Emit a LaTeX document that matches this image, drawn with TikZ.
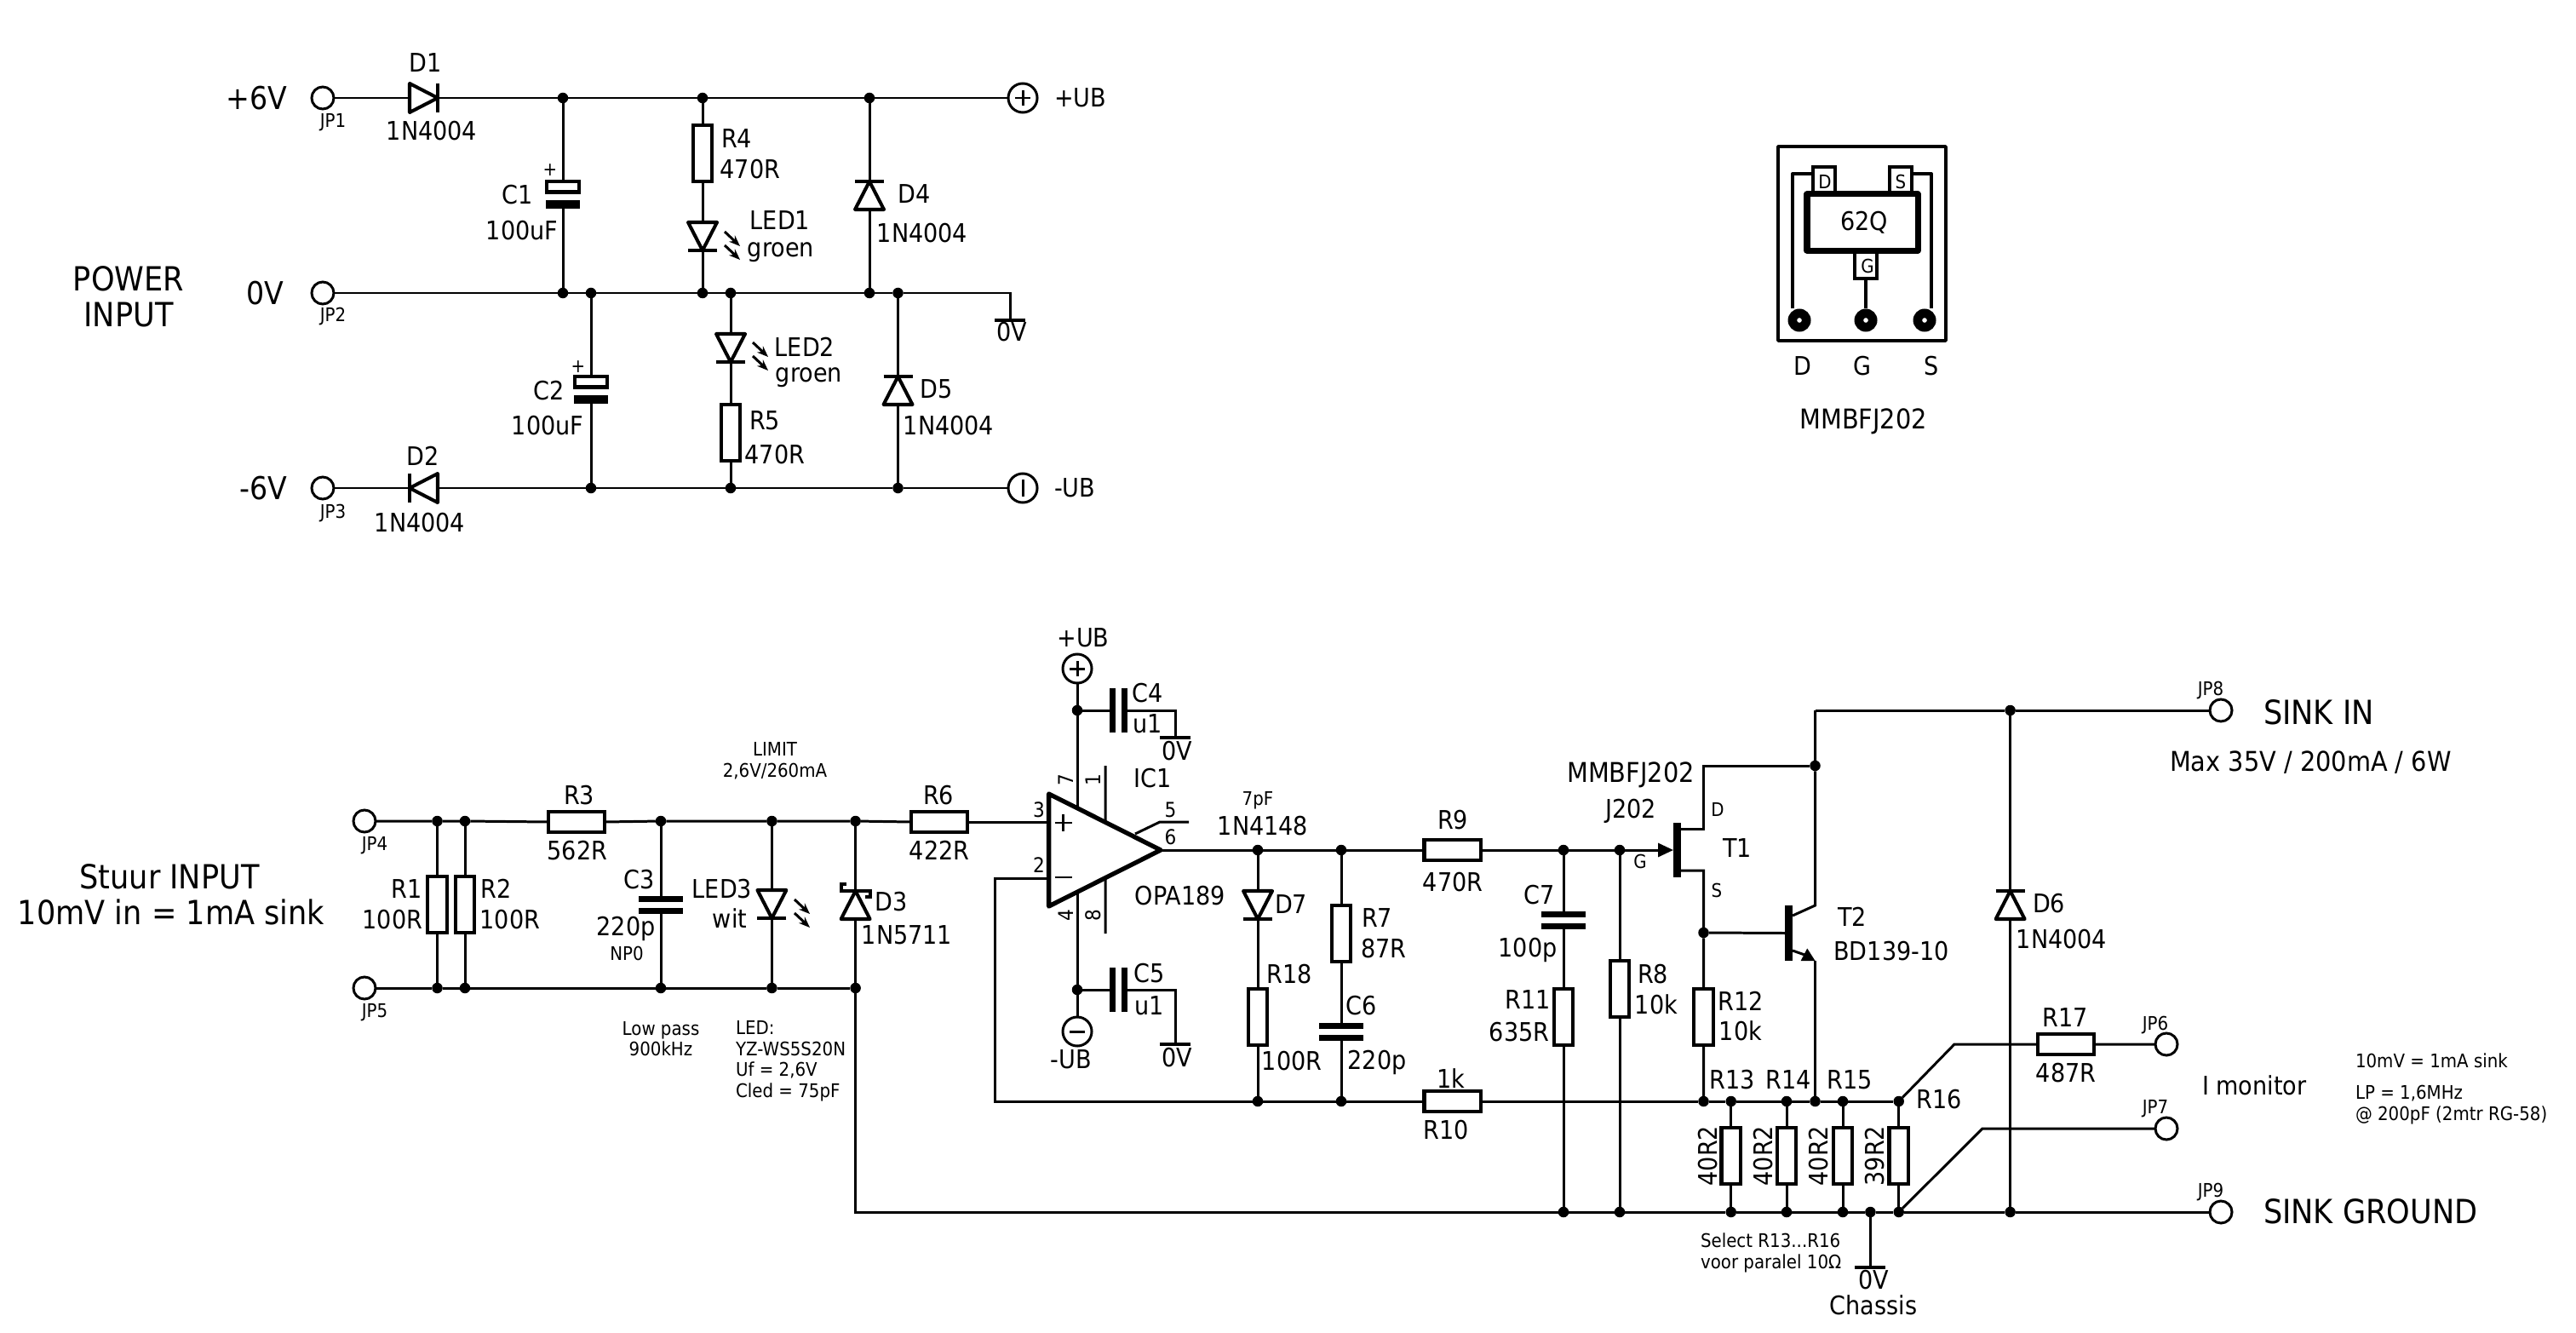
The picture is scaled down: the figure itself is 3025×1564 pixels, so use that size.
\documentclass[tikz,border=0pt]{standalone}
\usepackage{fontspec}
\setmainfont{DejaVu Sans}[FakeStretch=0.9]
\usetikzlibrary{arrows.meta}
\newcounter{tc}
\newcommand\T[3][]{\stepcounter{tc}\node[lab,#1] (t\arabic{tc}) at (#2) {#3};}
\newcommand\J[2]{\node[dot] (#1) at (#2) {};}
\newcommand\Diode[4]{\begin{scope}[shift={(#2)},rotate=#3]
 \coordinate (#1-a) at (0,0);\coordinate (#1-k) at (33,0);
 \draw[part,line join=round,fill=white] (0,-17)--(0,17)--(33,0)--cycle;
 \ifx#4s\else\draw[part] (33,-17)--(33,17);\fi
\end{scope}}
\newcommand\CapN[3]{\begin{scope}[shift={(#2)},rotate=#3]
 \coordinate (#1-1) at (0,-10.5);\coordinate (#1-2) at (0,10.5);
 \fill (-26,-10.5) rectangle (26,-3.5);\fill (-26,3.5) rectangle (26,10.5);
\end{scope}}
\newcommand\CapP[2]{\begin{scope}[shift={(#2)}]
 \coordinate (#1-t) at (0,0);\coordinate (#1-b) at (0,32);
 \draw[part] (-19,0) rectangle (19,12.5);\fill (-20,22) rectangle (20,32);
\end{scope}}
\newcommand\Leds[2]{\begin{scope}[shift={(#1)},rotate=#2]
 \draw[wire,-{Stealth[length=.13cm,width=.1cm]}] (0,0)--(18,17);
 \draw[wire,-{Stealth[length=.13cm,width=.1cm]}] (0,16)--(18,33);
\end{scope}}
\newcommand\Pwr[3]{\node[pterm] (#1) at (#2) {};
 \begin{scope}[shift={(#2)}]
 \ifx#3p\draw[wire] (-9,0)--(9,0) (0,-9)--(0,9);\fi
 \ifx#3m\draw[wire] (-9,0)--(9,0);\fi
 \ifx#3v\draw[wire] (0,-10)--(0,10);\fi
 \end{scope}}
\tikzset{
 wire/.style={line width=0.85pt},
 part/.style={line width=1.15pt},
 dot/.style={circle,fill=black,inner sep=0pt,minimum size=.125cm,outer sep=0pt},
 jpt/.style={circle,draw,wire,fill=white,inner sep=0pt,minimum size=.26cm,outer sep=0pt},
 pterm/.style={circle,draw,wire,fill=white,inner sep=0pt,minimum size=.34cm,outer sep=0pt},
 resH/.style={rectangle,draw,part,fill=white,inner sep=0pt,outer sep=0pt,minimum width=.66cm,minimum height=.235cm},
 resV/.style={rectangle,draw,part,fill=white,inner sep=0pt,outer sep=0pt,minimum width=.225cm,minimum height=.66cm},
 gndbar/.style={rectangle,fill=black,inner sep=0pt,outer sep=0pt,minimum width=.36cm,minimum height=.045cm},
 lab/.style={inner sep=0pt,outer sep=0pt,text height=6.2pt,text depth=0pt,font=\fontsize{8.55pt}{10pt}\selectfont},
 small/.style={text height=4.55pt,font=\fontsize{6.26pt}{7.5pt}\selectfont},
 pin/.style={text height=4.97pt,font=\fontsize{6.83pt}{8pt}\selectfont},
 mid/.style={text height=6.6pt,font=\fontsize{9.1pt}{11pt}\selectfont},
 big/.style={text height=7.65pt,font=\fontsize{10.5pt}{12pt}\selectfont},
 huge/.style={text height=8.1pt,font=\fontsize{11.1pt}{13pt}\selectfont},
 L/.style={anchor=west},
 R/.style={anchor=east}
}
\begin{document}
\begin{tikzpicture}[x=.01cm,y=-.01cm,wire]
\useasboundingbox (0,0) rectangle (3025,1564);
\fill[white] (0,0) rectangle (3025,1564);
% ---------- power input ----------
\node[jpt] (jp1) at (379,115) {};
\node[jpt] (jp2) at (379,344) {};
\node[jpt] (jp3) at (379,573) {};
\Pwr{ubp}{1201,115}{p}
\Pwr{ubm}{1201,573}{v}
\J{jc1t}{661,115}\J{jr4t}{825,115}\J{jd4t}{1021,115}
\J{jc1m}{661,344}\J{jc2m}{694,344}\J{jr4m}{825,344}\J{jr5m}{858,344}\J{jd4m}{1021,344}\J{jd5m}{1054.5,344}
\J{jc2b}{694,573}\J{jr5b}{858,573}\J{jd5b}{1054.5,573}
\Diode{d1}{481,115}{0}{n}
\Diode{d2}{514,573}{180}{n}
\Diode{d4}{1021,246}{90}{n}
\Diode{d5}{1054.5,475}{90}{n}
\Diode{l1}{825,261}{-90}{n}
\Diode{l2}{858,392}{-90}{n}
\Leds{851,272}{0}
\Leds{884,402}{0}
\CapP{c1}{661,213}
\CapP{c2}{694,442}
\node[resV] (r4) at (825,180) {};
\node[resV] (r5) at (858,508) {};
\node[gndbar] (g0) at (1186,376) {};
\draw (jp1)--(d1-a) (d1-k)--(jc1t)--(jr4t)--(jd4t)--(ubp);
\draw (jp2)--(jc1m)--(jc2m)--(jr4m)--(jr5m)--(jd4m)--(jd5m) -| (g0.north);
\draw (jp3)--(d2-k) (d2-a)--(jc2b)--(jr5b)--(jd5b)--(ubm);
\draw (jc1t)--(c1-t) (c1-b)--(jc1m);
\draw (jr4t)--(r4.north) (r4.south)--(l1-a) (l1-k)--(jr4m);
\draw (jd4t)--(d4-k) (d4-a)--(jd4m);
\draw (jc2m)--(c2-t) (c2-b)--(jc2b);
\draw (jr5m)--(l2-a) (l2-k)--(r5.north) (r5.south)--(jr5b);
\draw (jd5m)--(d5-k) (d5-a)--(jd5b);
\T[big,R]{337,115}{+6V}
\T[big,R]{333,344}{0V}
\T[big,R]{337,573}{-6V}
\T[huge]{151,327}{POWER}
\T[huge]{151,369}{INPUT}
\T[small]{391,142}{JP1}\T[small]{391,370}{JP2}\T[small]{391,600}{JP3}
\T{500,74}{D1}\T{507,154}{1N4004}
\T{497,536}{D2}\T{493,614}{1N4004}
\T[small]{646,199}{+}\T{608,229}{C1}\T{613,271}{100uF}
\T[small]{679,429}{+}\T{645,459}{C2}\T{643,500}{100uF}
\T{865,163}{R4}\T{881,199}{470R}
\T{916,259}{LED1}\T{917,291}{groen}
\T{945,408}{LED2}\T{950,438}{groen}
\T{898,494}{R5}\T{910,534}{470R}
\T{1074,228}{D4}\T{1083,274}{1N4004}
\T{1100,457}{D5}\T{1114,500}{1N4004}
\T{1188,390}{0V}
\T[L]{1238,115}{+UB}\T[L]{1238,573}{-UB}
% ---------- package ----------
\draw[line width=1pt,line join=round] (2088,172) rectangle (2285,400);
\node[rectangle,draw,line width=2pt,inner sep=0pt,outer sep=0pt,minimum width=1.3cm,minimum height=.66cm,line join=round,fill=white] (body) at (2187,261) {};
\node[rectangle,draw,line width=.95pt,inner sep=0pt,outer sep=0pt,minimum width=.26cm,minimum height=.32cm] (pd) at (2142,212) {};
\node[rectangle,draw,line width=.95pt,inner sep=0pt,outer sep=0pt,minimum width=.26cm,minimum height=.32cm] (ps) at (2232,212) {};
\node[rectangle,draw,line width=.95pt,inner sep=0pt,outer sep=0pt,minimum width=.26cm,minimum height=.32cm] (pg) at (2191,311) {};
\node[circle,fill=black,inner sep=0pt,outer sep=0pt,minimum size=.27cm] (hd) at (2113,376) {};
\node[circle,fill=black,inner sep=0pt,outer sep=0pt,minimum size=.27cm] (hg) at (2191,376) {};
\node[circle,fill=black,inner sep=0pt,outer sep=0pt,minimum size=.27cm] (hs) at (2260,376) {};
\coordinate (wd) at (2105,204);\coordinate (ws) at (2268,204);
\draw[line width=1.15pt,line join=round] (pd.west |- wd)--(wd)--(wd |- hd.north);
\draw[line width=1.15pt,line join=round] (ps.east |- ws)--(ws)--(ws |- hs.north);
\draw[line width=1.15pt] (pg.south)--(hg);
\fill[white] (hd) circle (2.8) (hg) circle (2.8) (hs) circle (2.8);
\T{2189,260}{62Q}
\T[small]{2143,214}{D}\T[small]{2232,214}{S}\T[small]{2193,313}{G}
\T{2117,430}{D}\T{2187,430}{G}\T{2268,430}{S}
\T[mid]{2188,492}{MMBFJ202}
% ---------- sink ----------
\node[jpt] (jp4) at (428,964) {};
\node[jpt] (jp5) at (428,1160) {};
\node[jpt] (jp6) at (2544,1226) {};
\node[jpt] (jp7) at (2544,1325) {};
\node[jpt] (jp8) at (2608,834) {};
\node[jpt] (jp9) at (2608,1423) {};
\J{j1t}{513.5,964}\J{j2t}{546,964}\J{jc3t}{776,964}\J{jl3t}{906.4,964}\J{jd3t}{1004.6,964}
\J{j1b}{513.5,1160}\J{j2b}{546,1160}\J{jc3b}{776,1160}\J{jl3b}{906.4,1160}\J{jd3b}{1004.6,1160}
\node[resV] (r1) at (513.5,1062) {};
\node[resV] (r2) at (546,1062) {};
\node[resH] (r3) at (677,965) {};
\node[resH] (r6) at (1103,965) {};
\CapN{c3}{776,1062}{0}
\Diode{l3}{906.4,1045}{-90}{n}
\Leds{933,1056}{0}
\Diode{d3}{1004.6,1079}{90}{s}
\draw[part] (994,1038)--(988,1038)--(988,1046)--(1022,1046)--(1022,1053)--(1016,1053);
\draw (jp4)--(j1t)--(j2t)--(r3.west) (r3.east)--(jc3t)--(jl3t)--(jd3t)--(r6.west);
\draw (jp5)--(j1b)--(j2b)--(jc3b)--(jl3b)--(jd3b);
\draw (j1t)--(r1.north) (r1.south)--(j1b);
\draw (j2t)--(r2.north) (r2.south)--(j2b);
\draw (jc3t)--(c3-1) (c3-2)--(jc3b);
\draw (jl3t)--(l3-a) (l3-k)--(jl3b);
\draw (jd3t)--(d3-k) (d3-a)--(jd3b);
\T[small]{440,990}{JP4}\T[small]{440,1186}{JP5}
\T{478,1044}{R1}\T{461,1080}{100R}\T{583,1044}{R2}\T{599,1080}{100R}
\T{680,934}{R3}\T{678,999}{562R}
\T{751,1033}{C3}\T{735,1088}{220p}\T[small]{736,1119}{NP0}
\T{848,1044}{LED3}\T{857,1079}{wit}
\T{1047,1059}{D3}\T{1065,1098}{1N5711}
\T{1102,934}{R6}\T{1103,999}{422R}
\T[small]{910,879}{LIMIT}\T[small]{910,904}{2,6V/260mA}
\T[small]{776,1207}{Low pass}\T[small]{776,1231}{900kHz}
\T[small,L]{864,1206}{LED:}\T[small,L]{864,1231}{YZ-WS5S20N}\T[small,L]{864,1255}{Uf = 2,6V}\T[small,L]{864,1280}{Cled = 75pF}
\T[huge]{199,1029}{Stuur INPUT}
\T[huge]{201,1071}{10mV in = 1mA sink}
% op amp
\coordinate (oa) at (1231.6,932);\coordinate (ob) at (1231.6,1064);\coordinate (oc) at (1363,998);
\coordinate (pin3) at (1231.6,965);\coordinate (pin2) at (1231.6,1031);
\coordinate (pin7) at (1265,949);\coordinate (pin4) at (1265,1047);
\coordinate (pin1a) at (1298,899);\coordinate (pin1b) at (1298,965);
\coordinate (pin8a) at (1298,1031);\coordinate (pin8b) at (1298,1096);
\coordinate (pin5a) at (1333,979);\coordinate (pin5b) at (1362,965);\coordinate (pin5c) at (1396,965);
\Pwr{opp}{1265,785}{p}
\Pwr{opm}{1265,1211}{m}
\J{jc4}{1265,834}\J{jc5}{1265,1162}
\CapN{c4}{1313,834}{90}
\CapN{c5}{1313,1162}{90}
\node[gndbar] (g4) at (1380,866) {};
\node[gndbar] (g5) at (1380,1226) {};
\J{jd7}{1477,998}\J{jr7}{1575,998}\J{jc7}{1836,998}\J{jr8}{1902,998}
\J{jd7b}{1477,1293}\J{jc6b}{1575,1293}
\J{jb}{2000.5,1095}\J{jq}{2131.5,899}
\J{j12}{2000.5,1293}\J{j13}{2032.7,1293}\J{j14}{2098,1293}\J{je}{2131.5,1293}\J{j15}{2164,1293}\J{j16}{2229.7,1293}
\J{jg11}{1836,1423}\J{jg8}{1902,1423}\J{jg13}{2032.7,1423}\J{jg14}{2098,1423}\J{jg15}{2164,1423}\J{jch}{2196.4,1423}\J{jg16}{2229.7,1423}\J{jg6}{2360.6,1423}
\J{jd6t}{2360.6,834}
\node[resV] (r18) at (1477,1194) {};
\node[resV] (r7) at (1575,1096) {};
\node[resH] (r9) at (1705.5,998) {};
\node[resH] (r10) at (1705.5,1293) {};
\node[resV] (r11) at (1836,1194) {};
\node[resV] (r8) at (1902,1161) {};
\node[resV] (r12) at (2000.5,1194) {};
\node[resV] (r13) at (2032.7,1357) {};
\node[resV] (r14) at (2098,1357) {};
\node[resV] (r15) at (2164,1357) {};
\node[resV] (r16) at (2229.7,1357) {};
\node[resH] (r17) at (2426,1226) {};
\Diode{d7}{1477,1046}{-90}{n}
\Diode{d6}{2360.6,1079}{90}{n}
\CapN{c6}{1575,1211}{0}
\CapN{c7}{1836,1080.5}{0}
\node[rectangle,fill=black,inner sep=0pt,outer sep=0pt,minimum width=.09cm,minimum height=.64cm] (t1) at (1969.5,998) {};
\node[rectangle,fill=black,inner sep=0pt,outer sep=0pt,minimum width=.09cm,minimum height=.65cm] (t2) at (2100.5,1095.5) {};
\node[gndbar] (gch) at (2196.4,1488) {};
\coordinate (t1d) at (1974,973);\coordinate (t1s) at (1974,1022);\coordinate (cd) at (2000.5,899);
\coordinate (t2c) at (2105,1075);\coordinate (t2cc) at (2131.5,1063);
\coordinate (t2e) at (2105,1116);\coordinate (t2ee) at (2131.5,1128);
\coordinate (cy) at (2131.5,834);\coordinate (cfb) at (1168,1293);\coordinate (cg) at (1004.6,1423);
\coordinate (cu) at (2295,1226);\coordinate (cl) at (2328,1325);
\draw (r6.east)--(pin3);
\draw (pin2) -| (cfb) -- (jd7b)--(jc6b)--(r10.west) (r10.east)--(j12)--(j13)--(j14)--(je)--(j15)--(j16);
\draw (opp)--(jc4)--(pin7) (pin4)--(jc5)--(opm);
\draw (jc4)--(c4-1) (c4-2) -| (g4.north);
\draw (jc5)--(c5-1) (c5-2) -| (g5.north);
\draw (pin1a)--(pin1b) (pin8a)--(pin8b) (pin5a)--(pin5b)--(pin5c);
\draw[line width=1.5pt,line join=round] (oa)--(ob)--(oc)--cycle;
\draw[line width=.8pt] (1238.5,966)--(1258.5,966) (1248.5,956)--(1248.5,976) (1238.5,1030)--(1258.5,1030);
\draw (oc)--(jd7)--(jr7)--(r9.west) (r9.east)--(jc7)--(jr8);
\draw[-{Triangle[length=.18cm,width=.16cm]}] (jr8)--(t1.west);
\draw (jd7)--(d7-a) (d7-k)--(r18.north) (r18.south)--(jd7b);
\draw (jr7)--(r7.north) (r7.south)--(c6-1) (c6-2)--(jc6b);
\draw (jc7)--(c7-1) (c7-2)--(r11.north) (r11.south)--(jg11);
\draw (jr8)--(r8.north) (r8.south)--(jg8);
\draw (t1d) -| (cd) -- (jq);
\draw (t1s) -| (jb) (jb)--(t2.west) (jb)--(r12.north) (r12.south)--(j12);
\draw (cy)--(jq)--(t2cc)--(t2c);
\draw (t2e)--(2122,1122);
\fill (2114.6,1128)--(2131.5,1128)--(2122.2,1113.5)--cycle;
\draw (t2ee)--(je);
\draw (j13)--(r13.north) (r13.south)--(jg13);
\draw (j14)--(r14.north) (r14.south)--(jg14);
\draw (j15)--(r15.north) (r15.south)--(jg15);
\draw (j16)--(r16.north) (r16.south)--(jg16);
\draw (jd3b)--(cg)--(jg11)--(jg8)--(jg13)--(jg14)--(jg15)--(jch)--(jg16)--(jg6)--(jp9);
\draw (jch)--(gch.north);
\draw (j16)--(cu)--(r17.west) (r17.east)--(jp6);
\draw (jg16)--(cl)--(jp7);
\draw (cy)--(jd6t)--(jp8);
\draw (jd6t)--(d6-k) (d6-a)--(jg6);
\T{1272,749}{+UB}\T{1258,1244}{-UB}
\T{1348,814}{C4}\T{1348,850}{u1}\T{1382,882}{0V}
\T{1350,1143}{C5}\T{1350,1181}{u1}\T{1382,1242}{0V}
\T[pin,rotate=90]{1252,916}{7}\T[pin,rotate=90]{1284,916}{1}
\T[pin,rotate=90]{1252,1075}{4}\T[pin,rotate=90]{1284,1075}{8}
\T[pin]{1220,951}{3}\T[pin]{1220,1016}{2}\T[pin]{1374.5,951}{5}\T[pin]{1374.5,983}{6}
\T{1354,914}{IC1}\T{1386,1052}{OPA189}
\T[small]{1477,937}{7pF}\T{1483,970}{1N4148}
\T{1516,1062}{D7}\T{1514,1144}{R18}\T{1517,1246}{100R}
\T{1617,1078}{R7}\T{1625,1114}{87R}\T{1599,1181}{C6}\T{1617,1245}{220p}
\T{1706,963}{R9}\T{1706,1036}{470R}\T{1704,1267}{1k}\T{1698,1327}{R10}
\T{1808,1051}{C7}\T{1794,1113}{100p}\T{1794,1174}{R11}\T{1784,1212}{635R}
\T{1941,1144}{R8}\T{1945,1180}{10k}
\T[mid]{1915,907}{MMBFJ202}\T{1915,950}{J202}
\T[small]{1926,1011}{G}\T[small]{2017,950}{D}\T[small]{2016,1045}{S}
\T{2040,996}{T1}\T{2175,1077}{T2}\T{2221,1117}{BD139-10}
\T{2044,1176}{R12}\T{2044,1211}{10k}
\T{2034,1268}{R13}\T{2100,1268}{R14}\T{2172,1268}{R15}\T{2277,1291}{R16}
\T[rotate=90]{2005.6,1357}{40R2}\T[rotate=90]{2071,1357}{40R2}\T[rotate=90]{2136,1357}{40R2}\T[rotate=90]{2201.5,1357}{39R2}
\T[small,L]{1997,1456}{Select R13...R16}\T[small,L]{1997,1481}{voor paralel 10Ω}
\T{2200,1503}{0V}\T{2200,1533}{Chassis}
\T{2406,1061}{D6}\T{2421,1103}{1N4004}
\T{2425,1195}{R17}\T{2426,1260}{487R}
\T[small]{2531,1201}{JP6}\T[small]{2531,1299}{JP7}\T[small]{2596,808}{JP8}\T[small]{2596,1397}{JP9}
\T[huge,L]{2658,836}{SINK IN}\T[huge,L]{2658,1422}{SINK GROUND}
\T[mid,L]{2548,894}{Max 35V / 200mA / 6W}
\T[L]{2586,1275}{I monitor}
\T[small,L]{2766,1245}{10mV = 1mA sink}\T[small,L]{2766,1282}{LP = 1,6MHz}\T[small,L]{2766,1307}{@ 200pF (2mtr RG-58)}
\end{tikzpicture}
\end{document}
